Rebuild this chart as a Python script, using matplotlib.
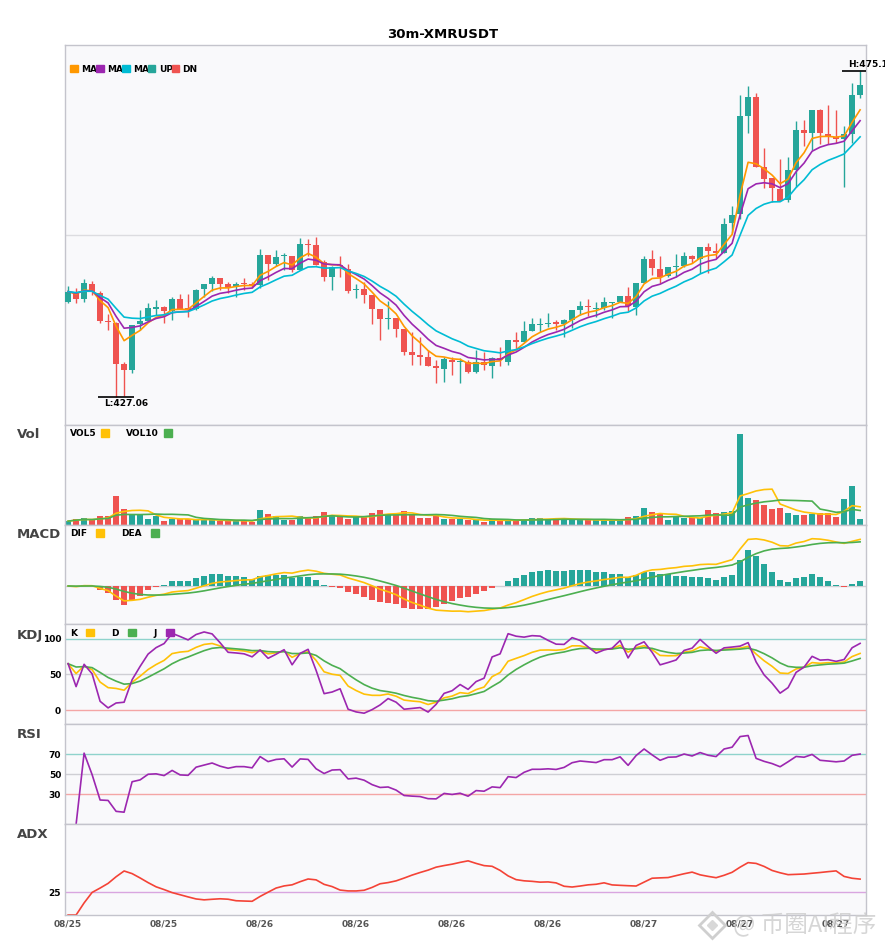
import numpy as np
import pandas as pd
import matplotlib
matplotlib.use('Agg')
import matplotlib.pyplot as plt
from matplotlib.patches import Patch
from matplotlib.lines import Line2D

plt.rcParams['font.family'] = ['DejaVu Sans']

symbol = '30m-XMRUSDT'
start_time = '2025-08-25 12:00'

# OHLC (30m candles)
opens = [441.07, 442.39, 441.51, 443.72, 442.39, 438.26, 437.97, 431.93, 431.04, 437.82,
         438.26, 440.03, 440.33, 439.74, 441.51, 440.18, 440.03, 442.99, 443.72, 444.61,
         443.72, 443.28, 443.87, 443.72, 443.57, 447.99, 446.67, 447.84, 447.84, 445.78,
         449.61, 449.47, 446.96, 444.75, 446.52, 445.93, 442.84, 442.99, 442.10, 440.03,
         438.56, 438.71, 437.09, 433.70, 433.25, 432.96, 431.49, 431.19, 432.52, 432.22,
         432.22, 430.75, 432.08, 431.63, 432.81, 432.22, 435.46, 435.16, 436.79, 437.67,
         437.82, 438.12, 437.82, 438.41, 439.89, 440.48, 440.03, 440.18, 440.92, 441.07,
         441.95, 440.33, 443.87, 447.40, 445.93, 444.90, 446.22, 446.37, 447.84, 447.40,
         449.17, 448.58, 448.29, 452.71, 454.07, 468.48, 471.28, 460.96, 459.34, 457.72,
         456.10, 460.52, 466.42, 465.98, 469.37, 465.83, 465.39, 465.10, 465.83, 471.58]
highs = [443.42, 443.13, 444.46, 444.16, 442.69, 439.30, 438.12, 432.22, 437.67, 439.89,
         440.92, 441.36, 440.48, 441.80, 442.25, 442.25, 442.99, 443.72, 444.90, 444.61,
         444.01, 444.01, 444.61, 444.01, 448.88, 447.99, 448.73, 448.29, 447.84, 450.50,
         450.35, 450.64, 447.26, 446.37, 447.84, 446.67, 443.72, 444.01, 442.10, 440.03,
         441.22, 438.71, 437.09, 436.60, 435.86, 433.99, 432.52, 432.96, 432.96, 432.81,
         432.52, 433.99, 433.70, 432.96, 434.43, 435.46, 436.64, 438.26, 438.71, 438.71,
         439.45, 438.41, 438.56, 439.89, 441.22, 441.51, 441.07, 441.80, 441.07, 441.95,
         443.28, 443.87, 447.84, 448.73, 447.84, 446.22, 448.14, 448.43, 447.99, 449.17,
         449.76, 449.76, 453.45, 455.22, 471.58, 472.90, 471.87, 463.76, 459.34, 462.14,
         462.43, 467.75, 467.89, 469.37, 469.51, 470.10, 469.37, 467.01, 473.35, 475.10]
lows = [440.92, 440.92, 441.07, 442.10, 437.97, 436.94, 427.06, 427.20, 430.46, 436.94,
        438.26, 439.15, 437.97, 438.41, 440.03, 438.85, 439.89, 441.80, 442.69, 442.84,
        442.39, 441.80, 442.84, 443.13, 443.13, 444.31, 446.37, 445.78, 445.49, 445.78,
        447.84, 446.52, 444.16, 442.84, 444.75, 442.39, 441.66, 440.92, 437.82, 435.46,
        437.09, 435.90, 433.25, 431.78, 431.78, 431.49, 429.12, 429.27, 430.30, 429.12,
        430.60, 430.46, 431.04, 429.86, 431.49, 431.78, 433.99, 435.16, 436.79, 436.64,
        437.38, 436.94, 435.90, 437.23, 439.15, 439.00, 438.85, 439.89, 438.71, 441.07,
        439.74, 439.15, 443.87, 445.05, 443.87, 444.75, 444.75, 446.22, 446.81, 445.34,
        445.34, 447.55, 448.29, 451.24, 453.20, 465.98, 460.96, 457.87, 455.80, 455.95,
        455.80, 458.02, 464.06, 463.47, 464.36, 464.36, 464.51, 458.02, 464.51, 471.14]
closes = [442.54, 441.51, 443.87, 442.54, 438.26, 438.12, 431.93, 431.04, 437.67, 438.26,
          440.18, 440.33, 439.74, 441.51, 440.03, 439.89, 442.84, 443.72, 444.61, 443.72,
          443.13, 443.72, 443.72, 443.42, 447.99, 446.67, 447.70, 447.99, 445.78, 449.61,
          449.47, 446.52, 444.75, 446.22, 446.37, 442.69, 442.99, 442.10, 440.03, 438.56,
          438.71, 437.09, 433.70, 433.25, 432.96, 431.49, 431.34, 432.67, 432.08, 432.37,
          430.75, 432.08, 431.78, 432.81, 432.52, 435.46, 435.16, 436.79, 437.82, 437.82,
          437.97, 437.82, 438.41, 439.89, 440.48, 440.33, 440.18, 441.07, 441.07, 441.95,
          440.48, 443.87, 447.40, 446.08, 444.75, 446.22, 446.37, 447.84, 447.40, 449.17,
          448.58, 448.29, 452.56, 453.89, 468.48, 471.28, 460.96, 459.20, 457.87, 455.95,
          460.52, 466.42, 465.98, 469.37, 465.98, 465.54, 465.10, 465.83, 471.58, 473.05]
volume = [10, 16, 19, 14, 25, 25, 85, 46, 28, 28,
          16, 25, 10, 16, 16, 16, 13, 13, 13, 10,
          10, 13, 10, 8, 43, 31, 25, 13, 13, 25,
          22, 25, 37, 28, 22, 16, 22, 25, 34, 43,
          31, 28, 40, 31, 19, 19, 28, 16, 16, 16,
          13, 13, 7, 16, 13, 13, 13, 13, 19, 19,
          16, 19, 16, 13, 13, 13, 13, 13, 13, 13,
          22, 25, 49, 37, 31, 13, 22, 19, 22, 19,
          43, 34, 37, 40, 271, 79, 73, 58, 46, 49,
          34, 28, 28, 31, 34, 34, 22, 76, 115, 16]

UP = '#26a69a'
DN = '#ef5350'
C_MA = ['#ff9800', '#9c27b0', '#00bcd4']
YEL = '#ffc107'
GRN = '#4caf50'
PUR = '#9c27b0'
FACE = '#f9f9fb'
SPINE = '#c4c4cc'

df = pd.DataFrame({'open': opens, 'high': highs, 'low': lows, 'close': closes, 'volume': volume},
                  index=pd.date_range(start_time, periods=len(opens), freq='30min'))
x = np.arange(len(df))
close = df['close']

# ---- indicators ----
ma_fast = close.ewm(span=5, adjust=False).mean()
ma_mid = close.ewm(span=8, adjust=False).mean()
ma_slow = close.ewm(span=13, adjust=False).mean()

vol5 = df['volume'].rolling(5, min_periods=1).mean()
vol10 = df['volume'].rolling(10, min_periods=1).mean()

dif = close.ewm(span=12, adjust=False).mean() - close.ewm(span=26, adjust=False).mean()
dea = dif.ewm(span=9, adjust=False).mean()
hist = 2 * (dif - dea)

low9 = df['low'].rolling(9, min_periods=1).min()
high9 = df['high'].rolling(9, min_periods=1).max()
rsv = (close - low9) / (high9 - low9) * 100
k = rsv.ewm(com=2, adjust=False).mean()
d = k.ewm(com=2, adjust=False).mean()
j = 3 * k - 2 * d

delta = close.diff()
gain = delta.clip(lower=0).ewm(com=13, adjust=True).mean()
loss = (-delta.clip(upper=0)).ewm(com=13, adjust=True).mean()
rsi = 100 * gain / (gain + loss)

up_move = df['high'].diff()
down_move = -df['low'].diff()
plus_dm = pd.Series(np.where((up_move > down_move) & (up_move > 0), up_move, 0.0), index=df.index)
minus_dm = pd.Series(np.where((down_move > up_move) & (down_move > 0), down_move, 0.0), index=df.index)
pdm = plus_dm.ewm(span=14, adjust=False).mean()
mdm = minus_dm.ewm(span=14, adjust=False).mean()
dx = (100 * (pdm - mdm).abs() / (pdm + mdm)).fillna(0)
adx = dx.ewm(span=14, adjust=False).mean()

# ---- layout ----
W, H = 885, 950
fig = plt.figure(figsize=(W / 100, H / 100), dpi=100)

def px_axes(top, bottom):
    left, right = 65.3, 865.7
    return fig.add_axes([left / W, 1 - bottom / H, (right - left) / W, (bottom - top) / H])

ax_main = px_axes(45, 424.5)
ax_vol = px_axes(424.5, 524.5)
ax_macd = px_axes(524.5, 624.3)
ax_kdj = px_axes(624.3, 724.3)
ax_rsi = px_axes(724.3, 824.3)
ax_adx = px_axes(824.3, 915)
axes = [ax_main, ax_vol, ax_macd, ax_kdj, ax_rsi, ax_adx]

for ax in axes:
    ax.set_facecolor(FACE)
    for s in ax.spines.values():
        s.set_color(SPINE)
        s.set_linewidth(1)
    ax.set_xlim(-0.35, len(df) - 0.3)
    ax.tick_params(length=0, labelsize=6.5, pad=3)
    ax.set_xticks([])
    ax.set_yticks([])

is_up = df['close'] >= df['open']
colors = np.where(is_up, UP, DN)

# ---- candles ----
ax_main.vlines(x, df['low'], df['high'], colors=colors, lw=1, zorder=2)
body_lo = np.minimum(df['open'], df['close'])
body_h = (df['close'] - df['open']).abs()
body_h = np.maximum(body_h, 0.12)
ax_main.bar(x, body_h, 0.72, bottom=body_lo, color=colors, zorder=3)
ax_main.plot(x, ma_fast, color=C_MA[0], lw=1.2, zorder=4)
ax_main.plot(x, ma_mid, color=C_MA[1], lw=1.2, zorder=4)
ax_main.plot(x, ma_slow, color=C_MA[2], lw=1.2, zorder=4)

lo, hi = df['low'].min(), df['high'].max()
rng = hi - lo
ax_main.set_ylim(lo - 0.086 * rng, hi + 0.08 * rng)
ax_main.set_yticks([(lo - 0.086 * rng + hi + 0.08 * rng) / 2])
ax_main.set_yticklabels([])
ax_main.grid(axis='y', color='#dcdce0', lw=1)

hi_i = int(np.argmax(df['high'].values))
lo_i = int(np.argmin(df['low'].values))
ax_main.hlines(hi, hi_i - 2.25, hi_i + 2.25, color='black', lw=1.2, zorder=5)
ax_main.annotate(f'H:{hi:.2f}', xy=(hi_i - 1.5, hi), xytext=(0, 1.5), textcoords='offset points',
                 ha='left', va='bottom', fontsize=6.5, fontweight='bold', annotation_clip=False)
ax_main.hlines(lo, lo_i - 2.25, lo_i + 2.25, color='black', lw=1.2, zorder=5)
ax_main.annotate(f'L:{lo:.2f}', xy=(lo_i - 1.5, lo), xytext=(0, -2), textcoords='offset points',
                 ha='left', va='top', fontsize=6.5, fontweight='bold', annotation_clip=False)

main_handles = [Patch(color=C_MA[0]), Patch(color=C_MA[1]), Patch(color=C_MA[2]), Patch(color=UP), Patch(color=DN)]
ax_main.legend(main_handles, ['MA', 'MA', 'MA', 'UP', 'DN'], loc='upper left',
               bbox_to_anchor=(4.7 / 800.4, 1 - 19.5 / 379.5), ncol=5, frameon=False,
               prop={'size': 6.5, 'weight': 'bold'}, handlelength=0.85, handleheight=0.85,
               handletextpad=0.35, columnspacing=-0.1, borderpad=0, borderaxespad=0)

# ---- volume ----
ax_vol.bar(x, df['volume'], 0.72, color=colors, zorder=2)
ax_vol.plot(x, vol5, color=YEL, lw=1.2, zorder=3)
ax_vol.plot(x, vol10, color=GRN, lw=1.2, zorder=3)
ax_vol.set_ylim(0, df['volume'].max() * 1.1)

def sub_legend(ax, cols, labels, pad):
    ax.legend([Patch(color=c) for c in cols], labels, loc='upper left',
              bbox_to_anchor=(4.7 / 800.4, 0.955), ncol=len(labels), frameon=False, markerfirst=False,
              prop={'size': 6.5, 'weight': 'bold'}, handlelength=0.9, handleheight=0.9,
              handletextpad=pad, columnspacing=1.9, borderpad=0, borderaxespad=0)

sub_legend(ax_vol, [YEL, GRN], ['VOL5', 'VOL10'], 0.5)

# ---- MACD ----
ax_macd.axhline(0, color='#cfcfd4', lw=1, zorder=1)
ax_macd.bar(x, hist, 0.72, color=np.where(hist >= 0, UP, DN), zorder=2)
ax_macd.plot(x, dif, color=YEL, lw=1.2, zorder=3)
ax_macd.plot(x, dea, color=GRN, lw=1.2, zorder=3)
m_top = 1.3 * max(dif.max(), dea.max(), hist.max())
ax_macd.set_ylim(-m_top * 38 / 61, m_top)
sub_legend(ax_macd, [YEL, GRN], ['DIF', 'DEA'], 1.0)

# ---- KDJ ----
ax_kdj.axhline(100, color='#8fd3cc', lw=1, zorder=1)
ax_kdj.axhline(50, color='#cfcfd4', lw=1, zorder=1)
ax_kdj.axhline(0, color='#f4a6a5', lw=1, zorder=1)
ax_kdj.plot(x, k, color=YEL, lw=1.2)
ax_kdj.plot(x, d, color=GRN, lw=1.2)
ax_kdj.plot(x, j, color=PUR, lw=1.2)
ax_kdj.set_ylim(-20, 120)
ax_kdj.set_yticks([0, 50, 100])
sub_legend(ax_kdj, [YEL, GRN, PUR], ['K', 'D', 'J'], 1.0)

# ---- RSI ----
ax_rsi.axhline(70, color='#8fd3cc', lw=1, zorder=1)
ax_rsi.axhline(50, color='#cfcfd4', lw=1, zorder=1)
ax_rsi.axhline(30, color='#f4a6a5', lw=1, zorder=1)
ax_rsi.plot(x, rsi, color=PUR, lw=1.2)
ax_rsi.set_ylim(0, 100)
ax_rsi.set_yticks([30, 50, 70])

# ---- ADX ----
ax_adx.axhline(25, color='#d9a6e0', lw=1, zorder=1)
ax_adx.plot(x, adx, color='#f44336', lw=1.2)
ax_adx.set_ylim(0, 100)
ax_adx.set_yticks([25])
ax_adx.set_xticks(x[::12])
ax_adx.set_xticklabels(df.index[::12].strftime('%m/%d'), color='#555555', fontweight='bold')

for ax in [ax_kdj, ax_rsi, ax_adx]:
    for lab in ax.get_yticklabels():
        lab.set_fontweight('bold')

# ---- texts ----
fig.text(0.5, 1 - 34 / H, symbol, ha='center', va='center', fontsize=9.5, fontweight='bold')
for name, ycen in [('Vol', 435), ('MACD', 535), ('KDJ', 635), ('RSI', 735), ('ADX', 835)]:
    fig.text(17 / W, 1 - ycen / H, name, ha='left', va='center', fontsize=9.5,
             fontweight='bold', color='#444444')

# watermark of the source image (logo + text)
fig.add_artist(Line2D([712 / W], [1 - 925 / H], marker='D', markersize=13, markerfacecolor='none',
                      markeredgecolor='#cfcfcf', markeredgewidth=2, transform=fig.transFigure))
fig.add_artist(Line2D([712 / W], [1 - 925 / H], marker='D', markersize=5, markerfacecolor='#d8d8d8',
                      markeredgecolor='#d8d8d8', transform=fig.transFigure))
fig.text(733 / W, 1 - 925 / H, '@ 币圈AI程序', ha='left', va='center', fontsize=17,
         color='#cccccc', alpha=0.8, family=['Noto Sans CJK SC', 'DejaVu Sans'])

fig.savefig('out.png', dpi=100, facecolor='white')
